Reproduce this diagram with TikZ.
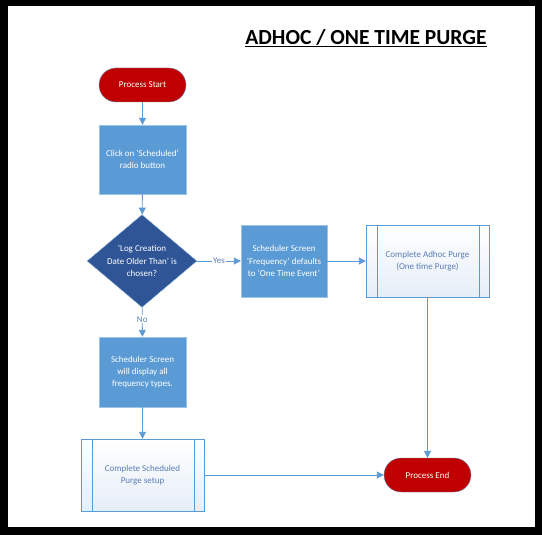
\documentclass[tikz,border=0pt]{standalone}
\usepackage{fontspec}
\setmainfont{Carlito}
\usetikzlibrary{shapes.geometric,arrows.meta}
\definecolor{boxblue}{HTML}{5B9BD5}
\definecolor{edgeblue}{HTML}{9DC3E6}
\definecolor{darkblue}{HTML}{2F5597}
\definecolor{startred}{HTML}{C00000}
\definecolor{textblue}{HTML}{5B7DB5}
\definecolor{paleblue}{HTML}{E6EEF8}
\tikzset{every node/.style={draw=none,inner sep=0pt,align=center,font=\fontsize{9}{12.3}\selectfont}}
\tikzset{term/.style={rectangle,rounded corners=17pt,fill=startred,draw=darkblue!70,text=white,minimum width=87pt,minimum height=34pt}}
\tikzset{act/.style={rectangle,fill=boxblue,draw=edgeblue,text=white,minimum width=87pt,minimum height=70pt}}
\tikzset{dec/.style={diamond,fill=darkblue,draw=edgeblue,text=white,minimum width=110pt,minimum height=88pt,inner sep=-2pt}}
\tikzset{sub/.style={rectangle,draw=boxblue,top color=white,bottom color=paleblue,text=textblue,minimum width=123pt,minimum height=72pt,
  path picture={\draw[boxblue] ([xshift=11pt]path picture bounding box.north west) -- ([xshift=11pt]path picture bounding box.south west);
    \draw[boxblue] ([xshift=-10pt]path picture bounding box.north east) -- ([xshift=-10pt]path picture bounding box.south east);}}}

\begin{document}
\begin{tikzpicture}[x=1pt,y=-1pt,>={Triangle[width=7pt,length=7pt]}]
      \fill[black] (0,0) rectangle (542,535);
      \fill[white] (8,6) rectangle (535,527);
      \node[font=\fontsize{21.5}{26}\selectfont\bfseries] (title) at (366,38) {\underline{ADHOC / ONE TIME PURGE}};
      \node[term] (start) at (142.5,85) {Process Start};
      \node[act,minimum height=69pt] (click) at (142.5,159.5) {Click on `Scheduled'\\radio button};
      \node[dec] (log) at (142,261) {`Log Creation\\Date Older Than' is\\chosen?};
      \node[act,minimum width=86pt,minimum height=72pt] (freq) at (284,261) {Scheduler Screen\\`Frequency' defaults\\to `One Time Event'};
      \node[sub] (adhoc) at (427.5,261) {Complete Adhoc Purge\\(One time Purge)};
      \node[act] (show) at (142.5,372) {Scheduler Screen\\will display all\\frequency types.};
      \node[sub] (sched) at (142.5,475) {Complete Scheduled\\Purge setup};
      \node[term] (stop) at (427.5,475) {Process End};
        \draw[->,boxblue,line width=0.9pt] (start) -- (click);
        \draw[->,boxblue,line width=0.9pt] (click) -- (log);
        \draw[->,boxblue,line width=0.9pt] (log) -- node[fill=white,text=textblue,inner sep=1pt] {Yes} (freq);
        \draw[->,boxblue,line width=0.9pt] (freq) -- (adhoc);
        \draw[->,boxblue,line width=0.9pt] (log) -- node[pos=0.4,fill=white,text=textblue,inner sep=1pt] {No} (show);
        \draw[->,boxblue,line width=0.9pt] (show) -- (sched);
        \draw[->,boxblue,line width=0.9pt] (adhoc) -- (stop);
        \draw[->,boxblue,line width=0.9pt] (sched) -- (stop);
    \end{tikzpicture}
\end{document}
